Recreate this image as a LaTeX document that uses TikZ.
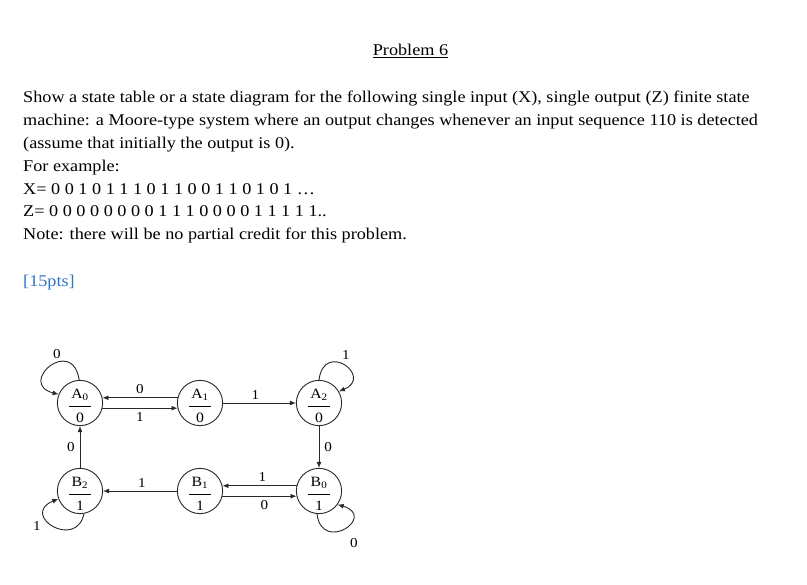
\documentclass[tikz,border=0pt]{standalone}
\usepackage{fontspec}
\setmainfont{Liberation Serif}[FakeStretch=1.11]
\usetikzlibrary{arrows.meta}
\definecolor{ptsblue}{RGB}{46,117,196}
\definecolor{lncol}{RGB}{40,40,40}
\newcommand{\stlab}[2]{\vbox{\kern15.4pt\hbox to 22pt{\hfil\smash{#1}\hfil}\kern7pt\hrule height 0.8pt\kern16.4pt\hbox to 22pt{\hfil\smash{#2}\hfil}}}
\tikzset{
  st/.style={draw=lncol, circle, minimum size=43.5pt, inner sep=0pt, line width=0.9pt, font=\fontsize{14.2}{15}\selectfont},
  arr/.style={draw=lncol, line width=0.9pt, -{Latex[length=6pt,width=5pt]}},
  lbl/.style={font=\fontsize{13.6}{15}\selectfont, inner sep=0pt},
  body/.style={anchor=base west, inner sep=0pt, font=\fontsize{16.4}{20}\selectfont},
}
\begin{document}
\begin{tikzpicture}[x=1pt,y=-1pt]
\fill[white] (0,0) rectangle (807,585);
\useasboundingbox (0,0) rectangle (807,585);

% text
\node[body, anchor=base] (title) at (410.5,56) {\underline{Problem 6}};
\node[body] (t1) at (23,103) {Show a state table or a state diagram for the following single input (X), single output (Z) finite state};
\node[body] (t2) at (23,125.8) {machine: a Moore-type system where an output changes whenever an input sequence 110 is detected};
\node[body] (t3) at (23,148.6) {(assume that initially the output is 0).};
\node[body] (t4) at (23,171.4) {For example:};
\node[body] (t5) at (23,194.2) {X= 0 0 1 0 1 1 1 0 1 1 0 0 1 1 0 1 0 1 …};
\node[body] (t6) at (23,217) {Z= 0 0 0 0 0 0 0 0 1 1 1 0 0 0 0 1 1 1 1 1..};
\node[body] (t7) at (23,239.8) {Note: there will be no partial credit for this problem.};
\node[body, text=ptsblue] (pts) at (23,286.5) {[15pts]};

% states
\node[st] (A0) at (80,403) {\stlab{A\textsubscript{0}}{0}};
\node[st] (A1) at (200,403) {\stlab{A\textsubscript{1}}{0}};
\node[st] (A2) at (319,403) {\stlab{A\textsubscript{2}}{0}};
\node[st] (B2) at (80,491) {\stlab{B\textsubscript{2}}{1}};
\node[st] (B1) at (200,491) {\stlab{B\textsubscript{1}}{1}};
\node[st] (B0) at (319,491) {\stlab{B\textsubscript{0}}{1}};

% transitions
\draw[arr] (A1.167) -- node[lbl, midway, above=4pt] {0} (A0.13);
\draw[arr] (A0.-13) -- node[lbl, midway, below=4pt] {1} (A1.193);
\draw[arr] (A1) -- node[lbl, midway, above=3pt, xshift=-4pt] {1} (A2);
\draw[arr] (A2) -- node[lbl, midway, right=5pt] {0} (B0);
\draw[arr] (B0.167) -- node[lbl, midway, above=4pt, xshift=3pt] {1} (B1.13);
\draw[arr] (B1.-13) -- node[lbl, midway, below=4pt, xshift=5pt] {0} (B0.193);
\draw[arr] (B1) -- node[lbl, midway, above=3pt, xshift=2pt] {1} (B2);
\draw[arr] (B2) -- node[lbl, midway, left=5pt] {0} (A0);

% self loops
\draw[arr] (A0.92) .. controls +(-7,-45) and +(-42,-11) .. (A0.158);
\draw[arr] (A2.90) .. controls +(5,-40) and +(35,-15) .. (A2.30);
\draw[arr] (B2.-80) .. controls +(-8,37) and +(-39,16) .. (B2.200);
\draw[arr] (B0.-95) .. controls +(5,40) and +(40,12) .. (B0.-36);
\node[lbl] (la0) at (57,354) {0};
\node[lbl] (la2) at (346,355) {1};
\node[lbl] (lb2) at (37,526) {1};
\node[lbl] (lb0) at (354,543) {0};
\end{tikzpicture}
\end{document}
